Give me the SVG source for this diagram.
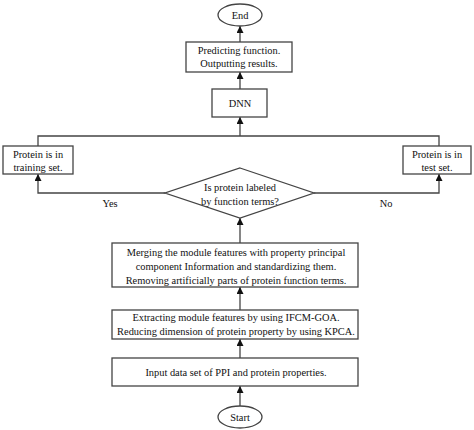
<svg xmlns="http://www.w3.org/2000/svg" width="474" height="430" viewBox="0 0 474 430">
<style>
.box{fill:#fff;stroke:#444;stroke-width:1.3}
.ln{fill:none;stroke:#444;stroke-width:1.3}
.t text{font-size:10.4px;fill:#111;text-anchor:middle}
</style>
<defs>
<marker id="ah" viewBox="0 0 10 10" refX="10" refY="5" markerWidth="7" markerHeight="7" markerUnits="userSpaceOnUse" orient="auto">
<path d="M0,0 L10,5 L0,10 z" fill="#111"/>
</marker>
</defs>
<rect width="474" height="430" fill="#fff"/>
<g class="t" font-family="Liberation Serif, Times New Roman, DejaVu Serif, serif">
<g id="connectors">
<line class="ln" x1="240" y1="406" x2="240" y2="386" marker-end="url(#ah)"/>
<line class="ln" x1="240" y1="358" x2="240" y2="339" marker-end="url(#ah)"/>
<line class="ln" x1="240" y1="310" x2="240" y2="287" marker-end="url(#ah)"/>
<line class="ln" x1="240" y1="243" x2="240" y2="218" marker-end="url(#ah)"/>
<polyline class="ln" points="165,193 38,193 38,174" marker-end="url(#ah)"/>
<polyline class="ln" points="314,193 439,193 439,174" marker-end="url(#ah)"/>
<polyline class="ln" points="38,146 38,136 439,136 439,146"/>
<line class="ln" x1="240" y1="136" x2="240" y2="117" marker-end="url(#ah)"/>
<line class="ln" x1="240" y1="89" x2="240" y2="72" marker-end="url(#ah)"/>
<line class="ln" x1="240" y1="42" x2="240" y2="26" marker-end="url(#ah)"/>
<text x="110" y="207">Yes</text>
<text x="386" y="207">No</text>
</g>
<g id="end">
<ellipse class="box" cx="240" cy="15" rx="22" ry="11"/>
<text x="240" y="19">End</text>
</g>
<g id="predict">
<rect class="box" x="186" y="42" width="106" height="30"/>
<text x="239" y="54">Predicting function.</text>
<text x="239" y="67">Outputting results.</text>
</g>
<g id="dnn">
<rect class="box" x="212" y="89" width="55" height="28"/>
<text x="240" y="107">DNN</text>
</g>
<g id="training">
<rect class="box" x="3" y="146" width="70" height="28"/>
<text x="38" y="158">Protein is in</text>
<text x="38" y="171">training set.</text>
</g>
<g id="test">
<rect class="box" x="403" y="146" width="68" height="28"/>
<text x="437" y="158">Protein is in</text>
<text x="437" y="171">test set.</text>
</g>
<g id="decision">
<polygon class="box" points="240,168 314,193 240,218 165,193"/>
<text x="240" y="191">Is protein labeled</text>
<text x="240" y="205">by function terms?</text>
</g>
<g id="merge">
<rect class="box" x="112" y="243" width="246" height="44"/>
<text x="236" y="256">Merging the module features with property principal</text>
<text x="236" y="270">component Information and standardizing them.</text>
<text x="236" y="284">Removing artificially parts of protein function terms.</text>
</g>
<g id="extract">
<rect class="box" x="112" y="310" width="246" height="29"/>
<text x="236" y="321">Extracting module features by using IFCM-GOA.</text>
<text x="236" y="335">Reducing dimension of protein property by using KPCA.</text>
</g>
<g id="input">
<rect class="box" x="112" y="358" width="246" height="28"/>
<text x="236" y="376">Input data set of PPI and protein properties.</text>
</g>
<g id="start">
<ellipse class="box" cx="240" cy="417" rx="22" ry="11"/>
<text x="240" y="421">Start</text>
</g>
</g>
</svg>
